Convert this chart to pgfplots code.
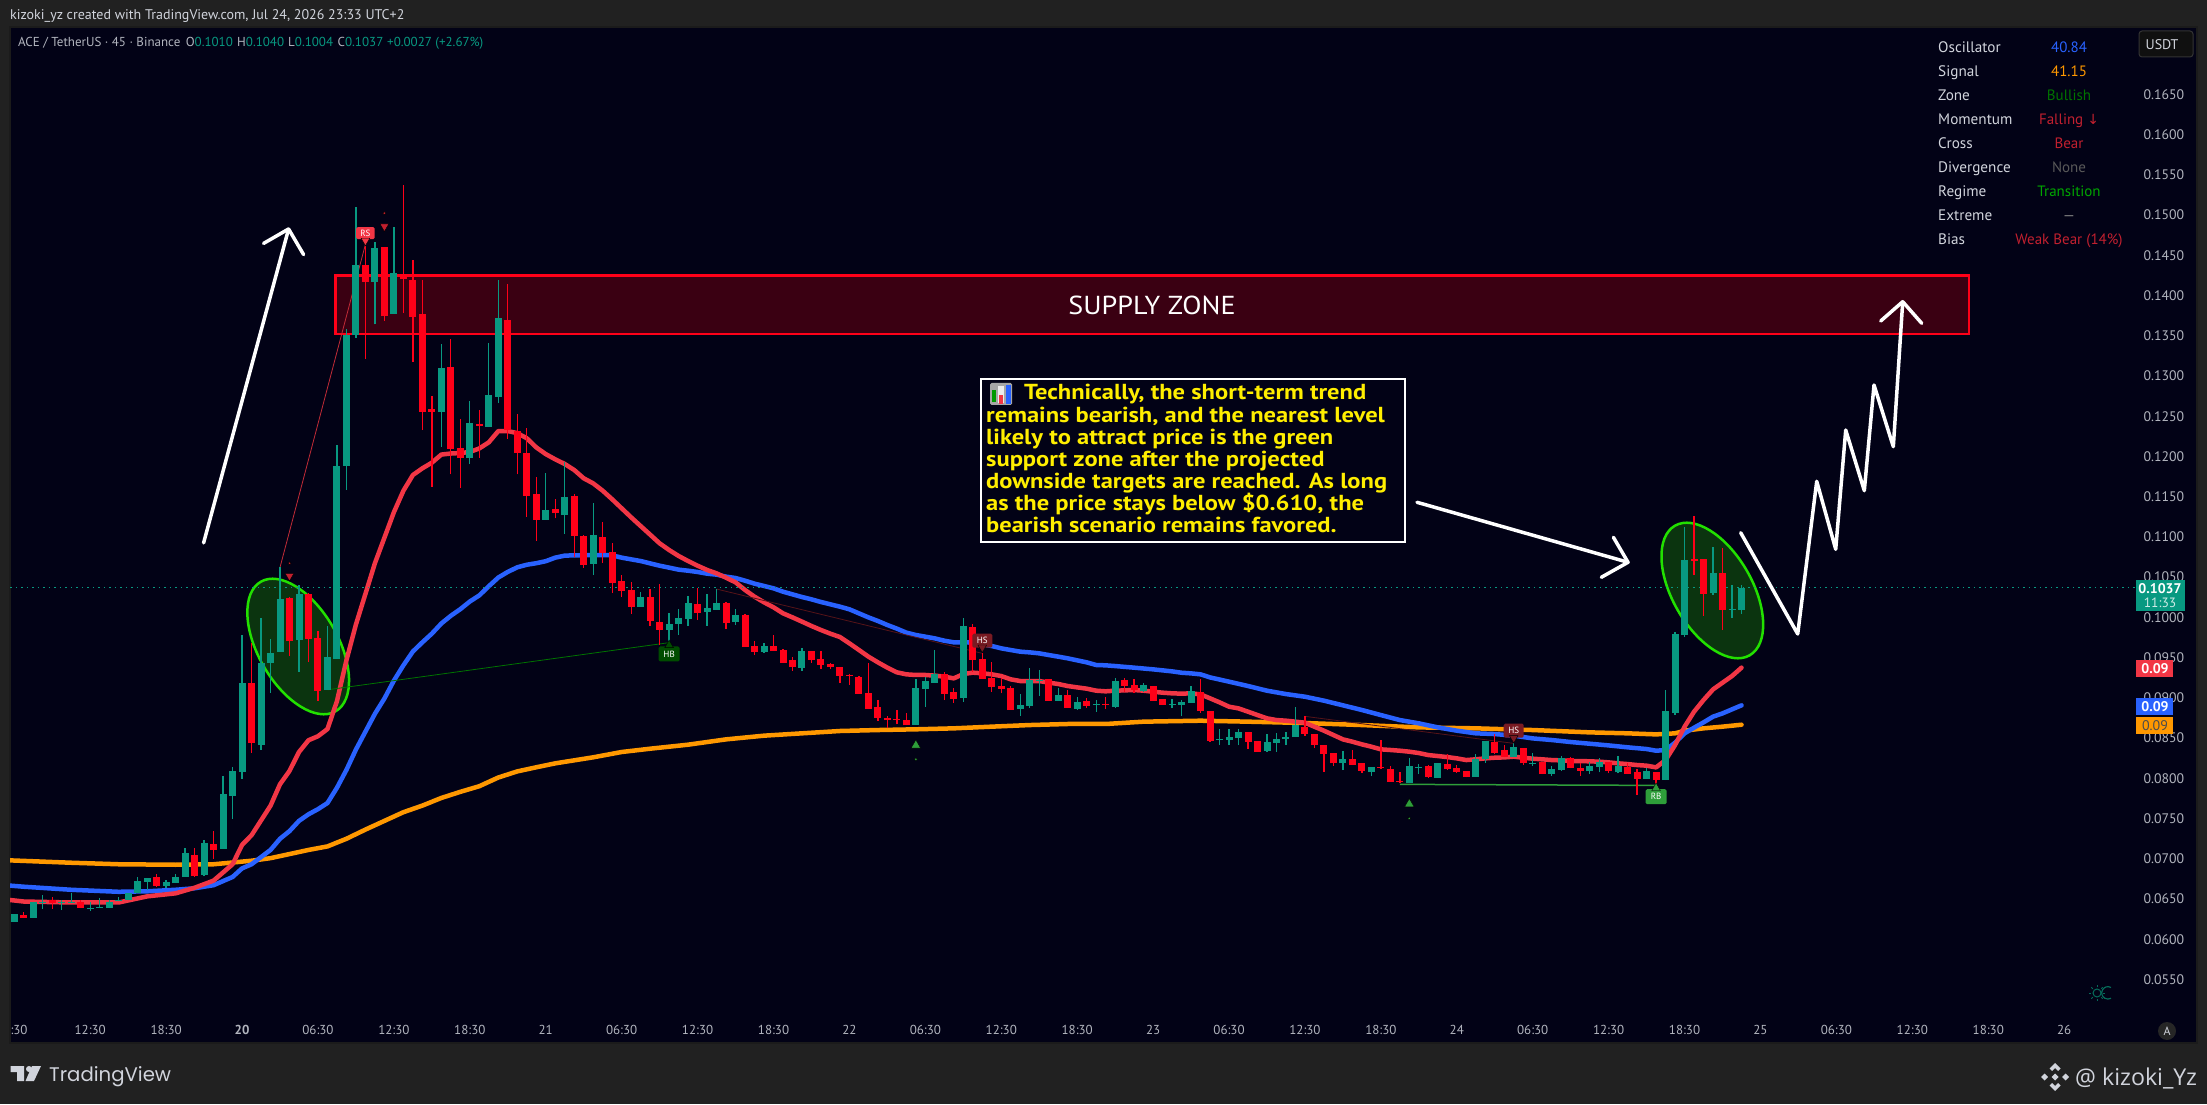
\documentclass[border=0pt]{standalone}
\usepackage{fontspec}
\usepackage{pgfplots}
\usepackage{pgfplotstable}
\pgfplotsset{compat=1.18}
\setmainfont{PT Sans}
\newfontfamily\boxfont[FakeStretch=1.13]{PT Sans}
\newfontfamily\zonefont[FakeStretch=1.08]{PT Sans}
\newfontfamily\tvfont{Poppins}
\newfontfamily\wmfont{Open Sans}
\newfontfamily\djv{DejaVu Sans}
\definecolor{pane}{HTML}{020216}
\definecolor{outer}{HTML}{212121}
\definecolor{upc}{HTML}{089981}
\definecolor{dnc}{HTML}{FF0018}
\definecolor{emar}{HTML}{F23645}
\definecolor{emab}{HTML}{2962FF}
\definecolor{emao}{HTML}{FF9800}
\definecolor{tick}{HTML}{B2B5BE}
\definecolor{lab}{HTML}{D1D4DC}
\definecolor{ellf}{HTML}{0B340F}
\definecolor{elld}{HTML}{22E000}
\definecolor{zonef}{HTML}{3A0012}
\definecolor{dimred}{HTML}{C2202F}
\definecolor{yel}{HTML}{FFEE00}
\definecolor{sigg}{HTML}{2E9E3A}
\newcommand{\fs}[1]{\fontsize{#1}{#1}\selectfont}

\pgfplotstableread{
i o h l c
0 .06216 .06311 .06216 .06311
2 .06266 .06463 .06266 .06463
3 .06457 .06552 .06374 .06469
5 .0645 .06488 .06361 .06469
6 .06457 .06577 .0645 .06469
8 .0638 .06457 .06349 .06393
9 .06387 .06514 .06387 .06399
10 .06387 .06488 .06387 .06469
11 .06475 .06526 .06475 .06488
12 .06482 .06577 .06482 .06577
13 .06571 .0678 .06571 .06723
14 .06716 .06767 .06615 .06767
16 .0666 .06742 .0664 .0671
17 .06697 .06805 .06697 .06774
18 .06774 .07129 .06774 .07071
20 .06799 .07236 .06786 .07198
22 .07122 .08023 .07122 .07807
23 .07782 .08143 .07496 .08092
24 .0808 .09785 .07997 .09183
26 .08416 .09994 .08352 .09436
27 .09436 .09734 .09062 .09557
28 .09569 .10622 .09569 .10229
30 .09722 .104 .09322 .10292
33 .091 .09893 .091 .09506
34 .09481 .12143 .09481 .11883
35 .11883 .13589 .11586 .13513
36 .13513 .15098 .13475 .14381
38 .14172 .14667 .1364 .14591
40 .13773 .14851 .13773 .1428
45 .12549 .13399 .12118 .13101
48 .11979 .1269 .11903 .12416
50 .12365 .13412 .12365 .12765
51 .1274 .14191 .12663 .13722
56 .11212 .11795 .11212 .11332
58 .11272 .11935 .11036 .11491
61 .10667 .11417 .10526 .11023
66 .10129 .10311 .10129 .10253
69 .09843 .1005 .09698 .09913
70 .09922 .101 .09781 .09992
71 .0998 .10265 .09893 .10174
73 .10067 .10286 .09893 .10116
74 .10092 .10352 .10092 .10178
76 .09942 .101 .09905 .10025
79 .0957 .09686 .09561 .09644
83 .0937 .09615 .09338 .09582
95 .08663 .0923 .08663 .09122
96 .09114 .09255 .0889 .09205
97 .09189 .09594 .09189 .09296
100 .09002 .09988 .08952 .09893
106 .08861 .09048 .08778 .08911
107 .08903 .09367 .08878 .09222
108 .09213 .09346 .09023 .09222
110 .08965 .09118 .08965 .09035
112 .08865 .09015 .08849 .08944
114 .08911 .08973 .08828 .0892
116 .08886 .0925 .08878 .09209
119 .0908 .09188 .09072 .09155
122 .08919 .08981 .08878 .08927
123 .08911 .08973 .08774 .08952
124 .08936 .09147 .08936 .09085
127 .0848 .08608 .08414 .08488
128 .08476 .08612 .08414 .08509
129 .08501 .08608 .08414 .08575
132 .08339 .0855 .08331 .08447
133 .08438 .08559 .08331 .08488
134 .08488 .08579 .08414 .08513
135 .08513 .08886 .08513 .08662
140 .08186 .08339 .08103 .0824
143 .08078 .0814 .08028 .0814
147 .07937 .08248 .07937 .08153
148 .08136 .08177 .08053 .08144
150 .08004 .08194 .08004 .08186
154 .08016 .08302 .08016 .08236
155 .08236 .08463 .08194 .08463
158 .08269 .08434 .08269 .08389
160 .08177 .0831 .08157 .08194
162 .08053 .08153 .08028 .08115
163 .08103 .08281 .08095 .08248
166 .08086 .08207 .08053 .08153
167 .0814 .08248 .08074 .08202
169 .08074 .08277 .08062 .08157
172 .07995 .08124 .07995 .08086
174 .07979 .09093 .07979 .08836
175 .08811 .09814 .08786 .09793
176 .0978 .11127 .09756 .10712
179 .10302 .10874 .10278 .10551
181 .10095 .10402 .09996 .10104
182 .1009 .10402 .10041 .1037
}\upc

\pgfplotstableread{
i o h l c
1 .06304 .06336 .06266 .06266
4 .06482 .06526 .06374 .0645
7 .06469 .06482 .06387 .06393
15 .06774 .06805 .06647 .0666
19 .07046 .07135 .06774 .06786
21 .07186 .07344 .06995 .0711
25 .09183 .09684 .08314 .08435
29 .10241 .10254 .09519 .09709
31 .10292 .10305 .09443 .09734
32 .09747 .09836 .08961 .09088
37 .14381 .14635 .13209 .14172
39 .14603 .14603 .13684 .13741
41 .14267 .15371 .1378 .14204
42 .14191 .14439 .13177 .13735
43 .13773 .14191 .12327 .12549
44 .12587 .12752 .11624 .12549
46 .13114 .13462 .11776 .12093
47 .12105 .12467 .11611 .11979
49 .12403 .12575 .11979 .12378
52 .13697 .14141 .1222 .12334
53 .12315 .1253 .11776 .12042
54 .12042 .12353 .1125 .11509
55 .11535 .1175 .10952 .11212
57 .11345 .11471 .1123 .11294
59 .11508 .11529 .10754 .11015
60 .11011 .11023 .10618 .10651
62 .10994 .11181 .1068 .10796
63 .10808 .1092 .10307 .10427
64 .10448 .10522 .10253 .10332
65 .10336 .10435 .10042 .10129
67 .10253 .10352 .09897 .09955
68 .09942 .1041 .09657 .09843
72 .10166 .10361 .09967 .10054
75 .10178 .10195 .09855 .0993
77 .10029 .10038 .09632 .09632
78 .09644 .09702 .09532 .09574
80 .09644 .09777 .09582 .09582
81 .09594 .09603 .09433 .09433
82 .09466 .09512 .09338 .09383
84 .09578 .09578 .09433 .0947
85 .09479 .09578 .09358 .09408
86 .0942 .09429 .09354 .09383
87 .09379 .09379 .09184 .09276
88 .0928 .09296 .0916 .09267
89 .09259 .09267 .09052 .09052
90 .09056 .09429 .08861 .08861
91 .08882 .08973 .08712 .08754
92 .0875 .08774 .08621 .08721
93 .08733 .08845 .08671 .08725
94 .08725 .08816 .08658 .08658
98 .09292 .09325 .08973 .09052
99 .09069 .09118 .0894 .0899
101 .09876 .09918 .09325 .0947
102 .09479 .09553 .09238 .09238
103 .09242 .09441 .09077 .09139
104 .09147 .09242 .09056 .09114
105 .09122 .09147 .08853 .08853
109 .0923 .0923 .08961 .08961
111 .09035 .09097 .08878 .08878
113 .08957 .08994 .08878 .08903
115 .08927 .09014 .08861 .08919
117 .09221 .09242 .09076 .09147
118 .09155 .0923 .09064 .09097
120 .09147 .09147 .0896 .0896
121 .08981 .08981 .08911 .08911
125 .09072 .09234 .08815 .08836
126 .08836 .08836 .08455 .08463
130 .08571 .08571 .08364 .08455
131 .08459 .08459 .08331 .08331
136 .08633 .0877 .0853 .08554
137 .0855 .0855 .08372 .08414
138 .08414 .08414 .08082 .08302
139 .0831 .0831 .08157 .08186
141 .0824 .08351 .08165 .08165
142 .08186 .08186 .0807 .08091
144 .0814 .08476 .08111 .08128
145 .08115 .08157 .07958 .07958
146 .07962 .08082 .07937 .07954
149 .08157 .08165 .08008 .08016
151 .08177 .08302 .08103 .08115
152 .08128 .08165 .0807 .08082
153 .08086 .08086 .08012 .08016
156 .08451 .0855 .08302 .08314
157 .08351 .08414 .0826 .08269
159 .08372 .08372 .08165 .08186
161 .08207 .08207 .08053 .08053
164 .08248 .08269 .08124 .08128
165 .08124 .08186 .08028 .08091
168 .08202 .08202 .08062 .08091
170 .08144 .08186 .08053 .08057
171 .08078 .08111 .07792 .07995
173 .08078 .08078 .07896 .07979
177 .10721 .11259 .10526 .10704
178 .10725 .10725 .10021 .10294
180 .10551 .10857 .09843 .10095
}\dnc

\pgfplotstableread{
i p
-1 .06495
1 .06469
6 .06457
11 .06457
14 .06533
17 .06571
19 .0664
21 .06729
23 .06932
24 .07173
25 .07293
27 .0766
28 .07927
29 .08092
30 .08327
31 .08473
32 .08523
33 .08612
34 .0896
35 .09468
36 .09912
37 .10292
38 .10673
39 .1099
40 .11307
41 .11573
42 .11769
43 .11852
44 .11922
45 .12023
46 .12036
47 .12042
48 .12055
49 .12099
50 .12175
51 .12315
52 .12315
53 .12289
54 .12226
55 .12112
56 .12029
57 .11964
58 .11906
59 .11831
60 .11728
61 .11665
62 .11574
63 .11467
64 .11355
65 .11243
66 .11135
67 .11028
68 .1092
69 .10837
70 .10763
71 .107
72 .10642
73 .10589
74 .10547
75 .10493
76 .10435
77 .1034
78 .10257
79 .10187
80 .10125
81 .1005
82 .1
83 .09947
84 .09893
85 .09843
86 .09797
87 .09756
88 .09677
89 .09595
90 .09512
91 .09441
92 .09375
93 .09317
94 .09292
95 .09284
96 .09284
97 .09276
98 .09263
99 .09242
100 .09296
101 .09313
102 .09305
103 .09292
104 .09271
105 .0923
106 .09209
107 .09209
108 .09209
109 .09189
110 .09172
111 .09147
112 .0913
113 .09114
114 .09089
115 .09081
116 .09089
117 .09093
118 .09097
119 .09089
120 .09076
121 .09064
122 .09056
123 .09052
124 .09056
125 .09043
126 .08994
127 .08944
128 .0889
129 .08869
130 .08828
131 .08786
132 .08745
133 .08724
134 .08716
135 .08704
136 .08691
137 .08641
138 .08592
139 .08538
140 .08484
141 .08455
142 .08422
143 .08393
144 .0836
145 .08352
146 .08343
147 .08331
148 .08314
149 .08289
150 .08277
151 .08264
152 .08248
153 .08227
154 .08236
155 .08248
156 .08256
157 .0826
158 .08269
159 .08256
160 .08244
161 .08236
162 .08227
163 .08223
164 .08215
165 .08215
166 .08211
167 .08207
168 .08198
169 .08186
170 .08177
171 .08165
172 .08157
173 .08136
174 .08227
175 .08414
176 .08641
177 .08828
178 .08973
179 .09105
180 .09188
181 .09271
182 .09375
}\emared

\pgfplotstableread{
i p
-1 .06672
1 .06653
6 .06615
11 .0659
14 .06596
17 .06615
19 .06634
21 .06672
23 .06774
24 .06881
25 .06932
27 .0711
28 .07249
29 .07344
30 .07471
31 .07553
32 .07617
33 .07693
34 .07883
35 .08105
36 .08358
37 .0858
38 .08802
39 .08992
40 .09214
41 .09404
42 .09576
43 .0969
44 .09798
45 .09924
46 .1002
47 .10102
48 .10197
49 .10273
50 .10387
51 .10495
52 .10565
53 .10622
54 .10654
55 .10673
56 .10698
57 .10742
58 .10767
59 .10771
60 .10771
61 .10775
62 .10775
63 .10771
64 .10742
65 .10721
66 .107
67 .10671
68 .10642
69 .10618
70 .10593
71 .1058
72 .10564
73 .10543
74 .10531
75 .10506
76 .10489
77 .10456
78 .10419
79 .1039
80 .10361
81 .10319
82 .10286
83 .10253
84 .10224
85 .10191
86 .10162
87 .10133
88 .101
89 .1005
90 .1
91 .09955
92 .09905
93 .0986
94 .0981
95 .09781
96 .0976
97 .09739
98 .0971
99 .0969
100 .0969
101 .09686
102 .09665
103 .09644
104 .09615
105 .09594
106 .09574
107 .09565
108 .09553
109 .09532
110 .09512
111 .09491
112 .09466
113 .09441
114 .09408
115 .09404
116 .09395
118 .09375
120 .09354
122 .09329
123 .09312
124 .09304
125 .09292
126 .09254
128 .09201
130 .09147
132 .09089
134 .09047
136 .09014
138 .08965
140 .08907
142 .08849
144 .08786
146 .08724
148 .08683
150 .08633
152 .08592
154 .08559
156 .0855
158 .0853
160 .08496
162 .08476
164 .08451
166 .0843
168 .08409
170 .08385
172 .08364
173 .08343
174 .08351
175 .08443
176 .08559
177 .08629
178 .08695
179 .08766
180 .08807
181 .08857
182 .08907
}\emablue

\pgfplotstableread{
i p
-1 .06983
6 .06951
11 .06932
17 .06926
21 .06932
25 .06976
27 .07008
29 .07059
31 .0711
33 .07154
35 .07249
37 .07363
39 .07471
41 .07579
43 .07661
45 .07756
47 .07832
49 .07902
51 .0801
53 .08086
55 .08137
57 .08186
61 .08261
64 .08327
67 .08368
71 .08418
75 .08484
79 .0853
83 .08559
87 .08588
91 .086
95 .08609
99 .08621
103 .08642
107 .08662
111 .08675
115 .08675
119 .08704
125 .08716
130 .08704
136 .08687
142 .08662
148 .08633
154 .08621
160 .086
166 .08571
170 .08559
173 .08546
175 .08559
176 .08592
178 .08621
180 .08642
182 .08666
}\emaorange

\begin{document}
\begin{tikzpicture}
\useasboundingbox (0,0) rectangle (2207pt,1104pt);
\fill[outer] (0,0) rectangle (2207pt,1104pt);
% everything in image pixels, y downward
\begin{scope}[x=1pt,y=-1pt,shift={(0,1104pt)}]
\fill[pane] (10,27) rectangle (2197,1043);
\draw[black!20!outer,line width=1.5pt] (10,27) rectangle (2197,1043);
\filldraw[draw=dnc,fill=zonef,line width=2.2pt] (335.5,275.5) rectangle (1969,334);
\filldraw[draw=elld,fill=ellf,line width=2.5pt,rotate around={-60:(298.2,646.5)}] (298.2,646.5) ellipse [x radius=74.8pt,y radius=39.8pt];
\filldraw[draw=elld,fill=ellf,line width=2.5pt,rotate around={-60:(1712.3,590.5)}] (1712.3,590.5) ellipse [x radius=74.8pt,y radius=39.8pt];
\end{scope}

\begin{axis}[
  at={(10pt,61pt)},anchor=south west,
  scale only axis,width=2187pt,height=1016pt,
  xmin=-0.453,xmax=230,ymin=0.04711,ymax=0.17336,
  axis line style={draw=none},
  major tick length=0pt,
  xtick={0.5,8,16,24,32,40,48,56,64,72,80,88,96,104,112,120,128,136,144,152,160,168,176,184,192,200,208,216},
  xticklabels={:30,12:30,18:30,\textbf{20},06:30,12:30,18:30,21,06:30,12:30,18:30,22,06:30,12:30,18:30,23,06:30,12:30,18:30,24,06:30,12:30,18:30,25,06:30,12:30,18:30,26},
  x tick label style={anchor=center,yshift=13pt,text=tick,font=\fs{13}},
  ytick={0.055,0.06,0.065,0.07,0.075,0.08,0.085,0.09,0.095,0.1,0.105,0.11,0.115,0.12,0.125,0.13,0.135,0.14,0.145,0.15,0.155,0.16,0.165},
  yticklabel pos=right,
  scaled y ticks=false,
  y tick label style={anchor=west,xshift=-57pt,text=tick,font=\fs{13.8},
    /pgf/number format/.cd,fixed,fixed zerofill,precision=4,assume math mode=true},
]
% moving averages
\addplot[emao,line width=4.5pt,line join=round,line cap=round] table[x=i,y=p] {\emaorange};
\addplot[emab,line width=4.5pt,line join=round,line cap=round] table[x=i,y=p] {\emablue};
\addplot[emar,line width=4.5pt,line join=round,line cap=round] table[x=i,y=p] {\emared};
% thin pivot lines
\addplot[emar!80!black,line width=0.8pt] coordinates {(28,.10622)(37,.14635)};
\addplot[green!45!black,line width=0.8pt] coordinates {(33,.091)(69,.09686)};
\addplot[emar!35!black,line width=0.8pt] coordinates {(74,.10352)(102,.09553)};
\addplot[emar!35!black,line width=0.8pt] coordinates {(136,.0877)(158,.08434)};
\addplot[sigg,line width=1.5pt] coordinates {(146,.07925)(173,.07912)};
\addplot[upc,line width=1pt,dash pattern=on 1.5pt off 4pt] coordinates {(-1,.1037)(223.7,.1037)};
% wicks
\addplot[draw=none,mark=none,error bars/.cd,y dir=plus,y explicit,error mark=none,error bar style={upc,line width=1.3pt}]
  table[x=i,y=l,y error expr=\thisrow{h}-\thisrow{l}] {\upc};
\addplot[draw=none,mark=none,error bars/.cd,y dir=plus,y explicit,error mark=none,error bar style={dnc,line width=1.3pt}]
  table[x=i,y=l,y error expr=\thisrow{h}-\thisrow{l}] {\dnc};
% bodies
\addplot[draw=none,mark=none,error bars/.cd,y dir=plus,y explicit,error mark=none,error bar style={upc,line width=7pt}]
  table[x=i,y=o,y error expr=\thisrow{c}-\thisrow{o}] {\upc};
\addplot[draw=none,mark=none,error bars/.cd,y dir=plus,y explicit,error mark=none,error bar style={dnc,line width=7pt}]
  table[x=i,y=c,y error expr=\thisrow{o}-\thisrow{c}] {\dnc};
% signal marks
\addplot[only marks,mark=triangle*,mark size=5pt,mark options={rotate=180,draw=none,fill=dimred}] coordinates {(29,.10514)(39,.14857)};
\addplot[only marks,mark=*,mark size=1.5pt,mark options={draw=none,fill=dimred}] coordinates {(29,.10672)(39,.15022)};
\addplot[only marks,mark=triangle*,mark size=5.5pt,mark options={draw=none,fill=sigg}] coordinates {(95,.0841)(147,.0768)};
\addplot[only marks,mark=*,mark size=1.5pt,mark options={draw=none,fill=sigg}] coordinates {(95,.08236)(147,.07502)};
% label pennants
\addplot[only marks,mark=triangle*,mark size=5pt,mark options={rotate=180,draw=none,fill=emar}] coordinates {(37,.14680)};
\addplot[only marks,mark=triangle*,mark size=5pt,mark options={rotate=180,draw=none,fill=emar!50!black}] coordinates {(102,.09625)(158,.08500)};
\addplot[only marks,mark=triangle*,mark size=5pt,mark options={draw=none,fill=green!30!black}] coordinates {(69,.09655)};
\addplot[only marks,mark=triangle*,mark size=5pt,mark options={draw=none,fill=sigg}] coordinates {(173,.0788)};
\addplot[draw=none] coordinates {(37,.14775)} node[fill=emar,rounded corners=1.5pt,text=white,font=\fs{9},minimum width=18.5pt,minimum height=12pt,inner sep=0pt]{RS};
\addplot[draw=none] coordinates {(69,.09545)} node[fill=green!30!black,rounded corners=1.5pt,text=white,font=\fs{9},minimum width=21pt,minimum height=15pt,inner sep=0pt]{HB};
\addplot[draw=none] coordinates {(102,.0971)} node[fill=emar!50!black,rounded corners=1.5pt,text=white,font=\fs{9},minimum width=20pt,minimum height=14pt,inner sep=0pt]{HS};
\addplot[draw=none] coordinates {(158,.08592)} node[fill=emar!50!black,rounded corners=1.5pt,text=white,font=\fs{9},minimum width=20pt,minimum height=14pt,inner sep=0pt]{HS};
\addplot[draw=none] coordinates {(173,.07772)} node[fill=sigg,rounded corners=1.5pt,text=white,font=\fs{9},minimum width=21pt,minimum height=15pt,inner sep=0pt]{RB};
\end{axis}

\begin{scope}[x=1pt,y=-1pt,shift={(0,1104pt)}]
% zone text
\node[text=white,font=\zonefont\fs{26}] at (1152,305) {SUPPLY ZONE};
% white annotations
\draw[white,line width=3.5pt,line cap=round,line join=round] (203.6,542.9)--(288.6,229);
\draw[white,line width=3.5pt,line cap=round,line join=round] (263.6,243.4)--(288.6,229)--(303.6,254.6);
\draw[white,line width=3.5pt,line cap=round,line join=round] (1417,502.3)--(1628,562.3);
\draw[white,line width=3.5pt,line cap=round,line join=round] (1613.4,537.3)--(1628,562.3)--(1601.3,577.3);
\draw[white,line width=3.5pt,line cap=round,line join=round] (1740.7,532.7)--(1797.7,634)--(1816.7,481.3)--(1835.7,549.3)--(1845.7,430)--(1864.3,490.7)--(1874,385)--(1893.3,446.7)--(1902.7,301.7);
\draw[white,line width=3.5pt,line cap=round,line join=round] (1880.7,321)--(1902.7,301.7)--(1921.7,323.3);
% text box
\filldraw[draw=white,fill=pane,line width=2.2pt] (981,379) rectangle (1405,542);
\fill[gray!70,rounded corners=1.5pt] (990,383) rectangle (1012,405);
\fill[white!85!gray] (998,386) rectangle (1004,403);
\fill[emar] (999,395) rectangle (1003,404);
\fill[emab] (1006,385) rectangle (1011,404);
\fill[green!60!black] (992,390) rectangle (996,402);
\begin{scope}[every node/.style={anchor=base west,text=yel,font=\boxfont\fs{21.7}\bfseries,inner sep=0pt}]
\node at (1024,400) {Technically, the short-term trend};
\node at (986,423) {remains bearish, and the nearest level};
\node at (986,445) {likely to attract price is the green};
\node at (986,467) {support zone after the projected};
\node at (986,489) {downside targets are reached. As long};
\node at (986,511) {as the price stays below \$0.610, the};
\node at (986,532.5) {bearish scenario remains favored.};
\end{scope}
% header
\node[anchor=base west,inner sep=0pt,text=lab,font=\fs{14}] at (10,20) {kizoki\_yz created with TradingView.com, Jul 24, 2026 23:33 UTC+2};
\begin{scope}[every node/.style={anchor=base west,inner sep=0pt,font=\fs{13}}]
\node[text=tick] at (18,47) {ACE / TetherUS · 45 · Binance};
\node at (185.6,47) {\textcolor{tick}{O}\textcolor{upc}{0.1010}};
\node at (237,47) {\textcolor{tick}{H}\textcolor{upc}{0.1040}};
\node at (288,47) {\textcolor{tick}{L}\textcolor{upc}{0.1004}};
\node at (337.5,47) {\textcolor{tick}{C}\textcolor{upc}{0.1037}};
\node[text=upc] at (387,47) {+0.0027 (+2.67\%)};
\end{scope}
% status table
\begin{scope}[every node/.style={inner sep=0pt,font=\fs{15}}]
\foreach \y/\t in {53/Oscillator,77/Signal,101/Zone,125/Momentum,149/Cross,173/Divergence,197/Regime,221/Extreme,245/Bias}
  \node[anchor=base west,text=lab,font=\fs{15.2}] at (1938,\y) {\t};
\node[anchor=base,text=emab] at (2069,53) {40.84};
\node[anchor=base,text=emao] at (2069,77) {41.15};
\node[anchor=base,text=green!45!black] at (2069,101) {Bullish};
\node[anchor=base,text=dimred] at (2069,125) {Falling {\djv\fs{14}↓}};
\node[anchor=base,text=dimred] at (2069,149) {Bear};
\node[anchor=base,text=gray!70!black] at (2069,173) {None};
\node[anchor=base,text=green!65!black] at (2069,197) {Transition};
\node[anchor=base,text=gray] at (2069,221) {—};
\node[anchor=base,text=dimred] at (2069,245) {Weak Bear (14\%)};
\end{scope}
\filldraw[draw=gray!40!black,fill=black!50!outer,rounded corners=3pt,line width=1pt] (2139,31) rectangle (2193,57);
\node[text=lab,font=\fs{14}] at (2162,44.5) {USDT};
% price tags
\fill[upc] (2136,580) rectangle (2184.5,610.7);
\node[text=white,font=\fs{14}\bfseries] at (2160,588.5) {0.1037};
\node[text=white!80!upc,font=\fs{13.5}] at (2160,603) {11:33};
\fill[emar] (2136,660) rectangle (2173,677);
\node[text=white,font=\fs{14}\bfseries] at (2155,668.5) {0.09};
\fill[emab] (2136,698) rectangle (2173,715);
\node[text=white,font=\fs{14}\bfseries] at (2155,706.5) {0.09};
\fill[emao] (2136,717) rectangle (2173,734);
\node[text=black!70,font=\fs{14}] at (2155,725.5) {0.09};
% session icon and auto badge
\draw[upc!70!black,line width=1pt] (2097,993) circle (4pt);
\foreach \a in {0,45,...,315} \draw[upc!70!black,line width=0.8pt] (2097,993) ++(\a:6pt) -- ++(\a:2pt);
\draw[upc!70!black,line width=1.2pt] (2111,987.5) arc[start angle=60,end angle=300,radius=6.2pt];
\fill[gray!30!black] (2167,1031) circle (9pt);
\node[text=lab,font=\fs{12}] at (2167,1031) {A};
% footer
\fill[lab] (10.5,1066) -- (24,1066) -- (24,1081) -- (17,1081) -- (17,1072) -- (10.5,1072) -- cycle;
\fill[lab] (29,1069) circle (3pt);
\fill[lab] (32,1066) -- (41,1066) -- (34,1081) -- (25.5,1081) -- cycle;
\node[anchor=base west,inner sep=0pt,text=lab,font=\tvfont\fs{19.7}] at (49,1081) {TradingView};
% watermark
\begin{scope}[shift={(2055,1077)}]
\fill[lab] (0,-14) -- (5.5,-8.5) -- (3,-6) -- (0,-9) -- (-3,-6) -- (-5.5,-8.5) -- cycle;
\fill[lab] (0,14) -- (5.5,8.5) -- (3,6) -- (0,9) -- (-3,6) -- (-5.5,8.5) -- cycle;
\fill[lab] (-14,0) -- (-10.5,-3.5) -- (-7,0) -- (-10.5,3.5) -- cycle;
\fill[lab] (14,0) -- (10.5,-3.5) -- (7,0) -- (10.5,3.5) -- cycle;
\fill[lab] (0,-3.5) -- (3.5,0) -- (0,3.5) -- (-3.5,0) -- cycle;
\end{scope}
\node[anchor=base west,inner sep=0pt,text=lab,font=\wmfont\fs{23.2}] at (2075,1085) {@ kizoki\_Yz};
\end{scope}
\end{tikzpicture}
\end{document}
